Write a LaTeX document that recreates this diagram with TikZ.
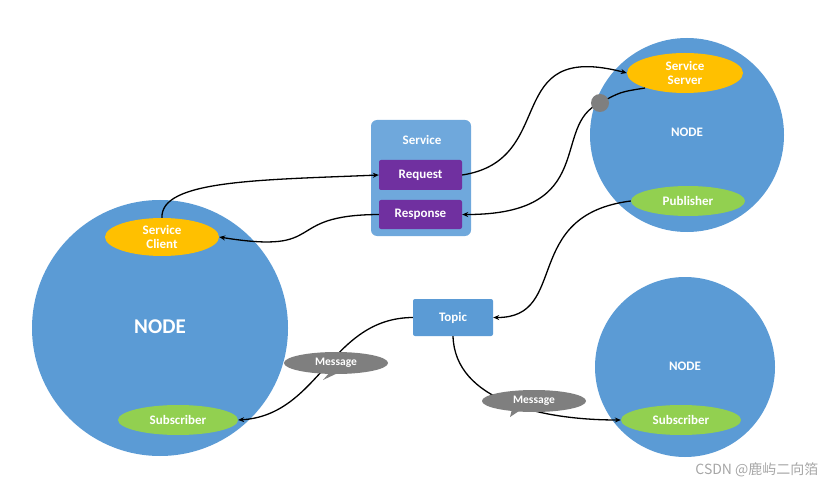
\documentclass[tikz,border=0pt]{standalone}
\usepackage{fontspec}
\setmainfont{Carlito}
\newfontfamily\cjk{Noto Sans CJK SC}
\usetikzlibrary{shapes.geometric,arrows.meta}
\definecolor{nblue}{HTML}{5B9BD5}
\definecolor{sblue}{HTML}{6FA8DC}
\definecolor{npurple}{HTML}{7030A0}
\definecolor{nyellow}{HTML}{FFC000}
\definecolor{ngreen}{HTML}{92D050}
\definecolor{ngray}{HTML}{7F7F7F}
\begin{document}
\begin{tikzpicture}[x=1pt,y=-1pt,
  node/.style={circle,fill=nblue,draw=none,inner sep=0pt},
  ell/.style={ellipse,draw=none,inner sep=0pt,text=white,font=\bfseries\fontsize{13}{14}\selectfont,align=center},
  box/.style={rounded corners=2pt,draw=none,text=white,font=\bfseries\fontsize{13}{14}\selectfont},
  lbl/.style={text=white,font=\bfseries\fontsize{13}{14}\selectfont},
  con/.style={black,line width=1.3pt,-{Stealth[length=6pt,width=5pt]}}]
\useasboundingbox (0,0) rectangle (835,489);
% nodes
\node[node,minimum size=256pt] (n1) at (160,328) {};
\node[node,minimum size=194pt] (n2) at (687,135) {};
\node[node,minimum size=180pt] (n3) at (685,367) {};
\node[text=white,font=\bfseries\fontsize{21}{23}\selectfont] (l1) at (160,327) {NODE};
\node[lbl] (l2) at (687,132) {NODE};
\node[lbl] (l3) at (685,366) {NODE};
% service
\node[box,fill=sblue,minimum width=100pt,minimum height=116pt,rounded corners=6pt] (svc) at (421,178) {};
\node[lbl] (svct) at (422,140) {Service};
\node[box,fill=npurple,minimum width=83pt,minimum height=30pt] (req) at (420.5,175) {Request};
\node[box,fill=npurple,minimum width=83pt,minimum height=29pt] (res) at (420.5,214.5) {Response};
% ellipses
\node[ell,fill=nyellow,minimum width=114pt,minimum height=38pt] (cli) at (162,237) {Service\\Client};
\node[ell,fill=nyellow,minimum width=116pt,minimum height=40pt] (srv) at (685,73) {Service\\Server};
\node[ell,fill=ngreen,minimum width=114pt,minimum height=30pt] (pub) at (688,201) {Publisher};
\node[ell,fill=ngreen,minimum width=120pt,minimum height=30pt] (sub1) at (178,420) {Subscriber};
\node[ell,fill=ngreen,minimum width=120pt,minimum height=30pt] (sub2) at (681,420) {Subscriber};
% topic
\node[box,fill=nblue,minimum width=80pt,minimum height=37pt] (top) at (453,317.5) {Topic};
% connectors
\draw[con] (cli.north) .. controls (160,180) and (260,180) .. (req.west);
\draw[con] (req.east) .. controls (560,160) and (500,40) .. (srv.west);
\coordinate (sw) at (645,88);
\draw[black,line width=1.3pt] (sw) .. controls (620,92) .. (600,103);
\draw[con] (600,103) .. controls (550,125) and (600,215) .. (res.east);
\node[circle,fill=ngray,minimum size=18pt,inner sep=0pt] (dot) at (600,103) {};
\draw[con] (res.west) .. controls (280,215) and (330,255) .. (cli.east);
\draw[con] (pub.west) .. controls (520,215) and (570,318) .. (top.east);
% messages
\draw[con] (top.west) .. controls (330,318) and (320,415) .. (sub1.east);
\draw[con] (top.south) .. controls (455,400) and (540,420) .. (sub2.west);
\fill[ngray] (330,372) -- (323,380) -- (340,372) -- cycle;
\node[ell,fill=ngray,minimum width=104pt,minimum height=22pt,font=\bfseries\fontsize{11.5}{12}\selectfont] (m1) at (336,363) {Message};
\fill[ngray] (512,409) -- (510,417) -- (522,409) -- cycle;
\node[ell,fill=ngray,minimum width=104pt,minimum height=22pt,font=\bfseries\fontsize{11.5}{12}\selectfont] (m2) at (534,401) {Message};
\node[text=gray!70,font=\cjk\fontsize{14}{15}\selectfont,anchor=east] (wm) at (822,470) {CSDN @鹿屿二向箔};
\end{tikzpicture}
\end{document}
